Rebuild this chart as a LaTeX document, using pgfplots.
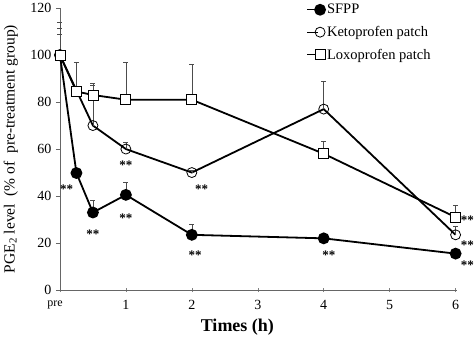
\documentclass[border=0pt]{standalone}
\usepackage{fontspec}
\setmainfont{Liberation Serif}
\usepackage{pgfplots}
\pgfplotsset{compat=1.18}
\pgfplotstableread{
x y e
0 100 9
0.25 49.8 1
0.5 33 5
1 40.5 5.5
2 23.5 4.5
4 22 1
6 15.5 1
}\sfpp
\pgfplotstableread{
x y e
0 100 14
0.5 70 17
1 60 3
2 50 1
4 77 12
6 23.5 3.5
}\keto
\pgfplotstableread{
x y e
0 100 11.5
0.25 84.5 12.5
0.5 83 5
1 81 16
2 81 15
4 58 5.5
6 31 5
}\loxo
\begin{document}
\begin{tikzpicture}
\begin{axis}[
  width=397pt, height=282pt, scale only axis,
  xmin=0, xmax=6.02, ymin=0, ymax=120,
  axis x line*=bottom, axis y line*=left,
  axis line style={-, line width=0.6pt, black!60},
  clip=false,
  xtick={0,1,2,3,4,5,6},
  xticklabels={{\fontsize{12}{14}\selectfont\hspace*{-10pt}\raisebox{1pt}{pre}},1,2,3,4,5,6},
  ytick={0,20,40,60,80,100,120},
  x tick style={black!50, line width=0.5pt},
  y tick style={black!60, line width=0.6pt},
  xtick align=center, ytick align=outside,
  major tick length=4pt,
  /pgf/number format/assume math mode=true,
  tick label style={font=\fontsize{14}{16}\selectfont},
  xticklabel style={yshift=-5pt},
  yticklabel style={xshift=-1pt},
  ylabel={PGE\textsubscript{2} level\ \ (\% of\ \ pre-treatment group)},
  ylabel style={font=\fontsize{15.5}{18}\selectfont, at={(axis description cs:-0.124,0.5)}, anchor=center},
  xlabel={\textbf{Times (h)}},
  xlabel style={font=\fontsize{18}{20}\selectfont, at={(axis description cs:0.447,-0.13)}, anchor=center},
  legend cell align=left,
  legend style={draw=none, fill=none, at={(axis description cs:0.618,1.025)}, anchor=north west,
     font=\fontsize{14.5}{16}\selectfont, row sep=7pt, inner sep=1pt},
  legend image code/.code={\draw[#1, line width=1.2pt] (-2pt,0pt) -- (9pt,0pt); \draw[#1] plot coordinates {(11pt,0pt)};},
  error bars/y dir=plus, error bars/y explicit,
  error bars/error bar style={line width=0.6pt, black!70},
  error bars/error mark options={rotate=90, mark size=2.5pt, line width=0.6pt, black!70},
]
\path (axis description cs:-0.151,-0.174) rectangle (axis description cs:1.043,1.018);
\addplot[black, line width=1.8pt, mark=*, mark size=5pt, mark options={solid, fill=black}]
  table[x=x, y=y, y error=e]{\sfpp};
\addlegendentry{SFPP}
\addplot[black, line width=1.8pt, mark=o, mark size=5pt, mark options={solid, fill=white, line width=0.8pt}]
  table[x=x, y=y, y error=e]{\keto};
\addlegendentry{Ketoprofen patch}
\addplot[black, line width=1.8pt, mark=square*, mark size=5pt, mark options={solid, fill=white, draw=black, line width=0.8pt}]
  table[x=x, y=y, y error=e]{\loxo};
\addlegendentry{Loxoprofen patch}
\begin{scope}[every node/.style={font=\fontsize{13}{15}\selectfont\bfseries, inner sep=0pt}]
\node at (axis cs:0.1,43) {**};
\node at (axis cs:0.5,23.7) {**};
\node at (axis cs:1,30.5) {**};
\node at (axis cs:1,53) {**};
\node at (axis cs:2.05,14.7) {**};
\node at (axis cs:2.15,43) {**};
\node at (axis cs:4.08,15) {**};
\node at (axis cs:6.18,29.6) {**};
\node at (axis cs:6.18,19) {**};
\node at (axis cs:6.18,10.5) {**};
\end{scope}
\end{axis}
\end{tikzpicture}
\end{document}
